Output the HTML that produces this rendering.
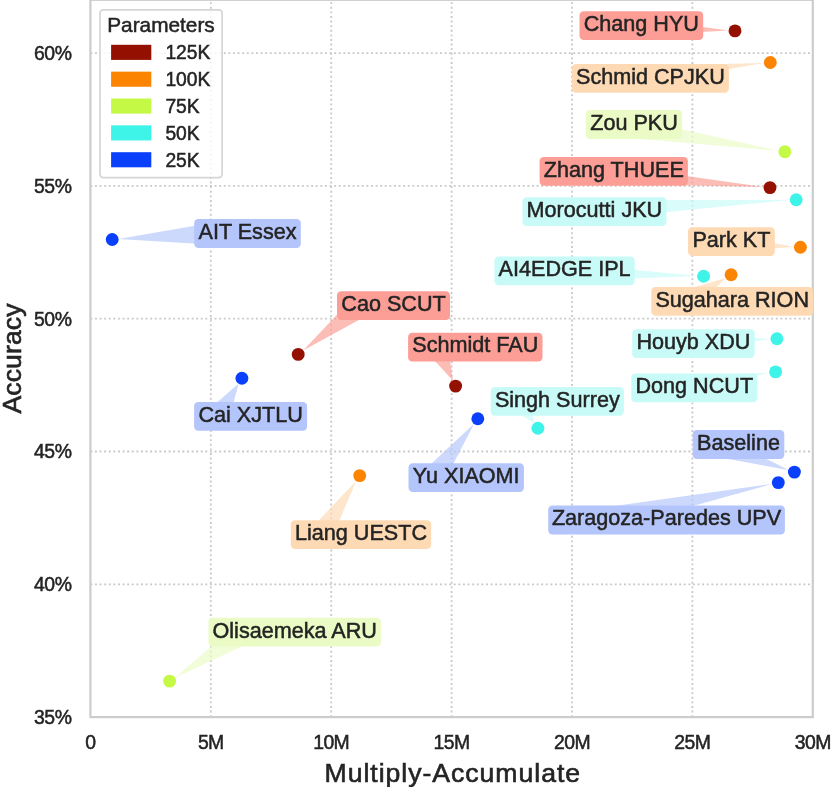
<!DOCTYPE html>
<html lang="en"><head><meta charset="utf-8"><title>Accuracy vs Multiply-Accumulate</title>
<style>html,body{margin:0;padding:0;background:#fff}svg{display:block}text{font-family:"Liberation Sans",Arial,sans-serif;fill:#242424;stroke:#242424;stroke-width:0.5px}</style></head><body>
<svg width="831" height="787" viewBox="0 0 831 787">
<rect width="831" height="787" fill="#fff"/>
<g stroke="#c8c8c8" stroke-width="1.8" stroke-dasharray="1.9 2.7" fill="none">
<line x1="210.80" y1="717.1" x2="210.80" y2="-0.2"/>
<line x1="331.20" y1="717.1" x2="331.20" y2="-0.2"/>
<line x1="451.60" y1="717.1" x2="451.60" y2="-0.2"/>
<line x1="572.00" y1="717.1" x2="572.00" y2="-0.2"/>
<line x1="692.40" y1="717.1" x2="692.40" y2="-0.2"/>
<line x1="90.4" y1="584.30" x2="812.8" y2="584.30"/>
<line x1="90.4" y1="451.50" x2="812.8" y2="451.50"/>
<line x1="90.4" y1="318.70" x2="812.8" y2="318.70"/>
<line x1="90.4" y1="185.90" x2="812.8" y2="185.90"/>
<line x1="90.4" y1="53.10" x2="812.8" y2="53.10"/>
</g>
<rect x="90.4" y="-0.2" width="722.4" height="717.3000000000001" fill="none" stroke="#cccccc" stroke-width="2.2"/>
<circle cx="112.2" cy="239.5" r="6.45" fill="#0a40fb"/>
<circle cx="241.9" cy="378.3" r="6.45" fill="#0a40fb"/>
<circle cx="298.2" cy="354.4" r="6.45" fill="#941000"/>
<circle cx="169.6" cy="681.1" r="6.45" fill="#c4f945"/>
<circle cx="778.3" cy="482.6" r="6.45" fill="#0a40fb"/>
<circle cx="794.4" cy="472.1" r="6.45" fill="#0a40fb"/>
<circle cx="784.9" cy="151.7" r="6.45" fill="#c4f945"/>
<circle cx="735.0" cy="30.9" r="6.45" fill="#941000"/>
<circle cx="770.3" cy="62.5" r="6.45" fill="#fc8403"/>
<circle cx="770.0" cy="187.6" r="6.45" fill="#941000"/>
<circle cx="796.2" cy="199.7" r="6.45" fill="#3ef3e8"/>
<circle cx="800.4" cy="247.3" r="6.45" fill="#fc8403"/>
<circle cx="731.1" cy="274.7" r="6.45" fill="#fc8403"/>
<circle cx="703.6" cy="276.3" r="6.45" fill="#3ef3e8"/>
<circle cx="776.9" cy="338.7" r="6.45" fill="#3ef3e8"/>
<circle cx="775.6" cy="371.9" r="6.45" fill="#3ef3e8"/>
<circle cx="537.9" cy="428.3" r="6.45" fill="#3ef3e8"/>
<circle cx="477.8" cy="418.8" r="6.45" fill="#0a40fb"/>
<circle cx="455.6" cy="386.1" r="6.45" fill="#941000"/>
<circle cx="359.7" cy="475.6" r="6.45" fill="#fc8403"/>
<polygon points="216.4,221.9 217.8,245.1 118.4,239.1" fill="#b4c5fb" fill-opacity="0.68"/>
<polygon points="228.3,422.4 208.5,410.1 238.6,383.6" fill="#b4c5fb" fill-opacity="0.68"/>
<polygon points="354.2,296.4 368.4,314.7 303.1,350.6" fill="#fc9e95" fill-opacity="0.68"/>
<polygon points="239.3,622.4 251.8,641.9 174.8,677.7" fill="#ebfbc5" fill-opacity="0.68"/>
<polygon points="601.4,531.4 596.7,508.6 772.2,483.9" fill="#b4c5fb" fill-opacity="0.68"/>
<polygon points="708.7,455.5 716.1,433.5 788.5,470.1" fill="#b4c5fb" fill-opacity="0.68"/>
<polygon points="604.8,136.0 608.2,113.1 778.8,150.8" fill="#ebfbc5" fill-opacity="0.68"/>
<polygon points="605.6,37.2 606.5,14.0 728.8,30.6" fill="#fc9e95" fill-opacity="0.68"/>
<polygon points="606.8,89.9 604.6,66.8 764.1,63.1" fill="#fedab4" fill-opacity="0.68"/>
<polygon points="570.5,182.9 572.4,159.8 763.8,187.1" fill="#fc9e95" fill-opacity="0.68"/>
<polygon points="554.0,223.1 552.8,200.0 790.0,200.0" fill="#c8fbf8" fill-opacity="0.68"/>
<polygon points="705.9,253.2 707.3,230.1 794.2,246.9" fill="#fedab4" fill-opacity="0.68"/>
<polygon points="692.0,311.2 680.2,291.3 725.8,277.9" fill="#fedab4" fill-opacity="0.68"/>
<polygon points="524.2,282.4 525.0,259.2 697.4,276.1" fill="#c8fbf8" fill-opacity="0.68"/>
<polygon points="659.0,355.2 658.0,332.0 770.7,339.0" fill="#c8fbf8" fill-opacity="0.68"/>
<polygon points="659.9,399.2 656.8,376.3 769.5,372.7" fill="#c8fbf8" fill-opacity="0.68"/>
<polygon points="509.8,407.9 528.9,394.7 534.4,423.2" fill="#c8fbf8" fill-opacity="0.68"/>
<polygon points="442.6,484.6 424.1,470.6 474.1,423.7" fill="#b4c5fb" fill-opacity="0.68"/>
<polygon points="426.5,352.1 447.5,342.2 452.9,380.5" fill="#fc9e95" fill-opacity="0.68"/>
<polygon points="330.7,541.0 311.3,528.2 356.3,480.8" fill="#fedab4" fill-opacity="0.68"/>
<rect x="194.2" y="219.1" width="106.6" height="28.8" rx="4.2" fill="#b4c5fb"/>
<text x="247.5" y="238.8" font-size="21.6" text-anchor="middle">AIT Essex</text>
<rect x="194.1" y="401.9" width="113.0" height="28.8" rx="4.2" fill="#b4c5fb"/>
<text x="250.6" y="421.6" font-size="21.6" text-anchor="middle">Cai XJTLU</text>
<rect x="337.0" y="291.2" width="113.0" height="28.8" rx="4.2" fill="#fc9e95"/>
<text x="393.5" y="310.9" font-size="21.6" text-anchor="middle">Cao SCUT</text>
<rect x="208.5" y="617.8" width="172.4" height="28.8" rx="4.2" fill="#ebfbc5"/>
<text x="294.7" y="637.5" font-size="21.6" text-anchor="middle">Olisaemeka ARU</text>
<rect x="548.2" y="505.6" width="236.7" height="28.8" rx="4.2" fill="#b4c5fb"/>
<text x="666.5" y="525.3" font-size="21.6" text-anchor="middle">Zaragoza-Paredes UPV</text>
<rect x="692.7" y="430.1" width="91.6" height="28.8" rx="4.2" fill="#b4c5fb"/>
<text x="738.5" y="449.8" font-size="21.6" text-anchor="middle">Baseline</text>
<rect x="585.8" y="110.1" width="96.3" height="28.8" rx="4.2" fill="#ebfbc5"/>
<text x="634.0" y="129.8" font-size="21.6" text-anchor="middle">Zou PKU</text>
<rect x="579.5" y="11.2" width="123.7" height="28.8" rx="4.2" fill="#fc9e95"/>
<text x="641.3" y="30.9" font-size="21.6" text-anchor="middle">Chang HYU</text>
<rect x="571.9" y="63.9" width="157.0" height="28.8" rx="4.2" fill="#fedab4"/>
<text x="650.4" y="83.6" font-size="21.6" text-anchor="middle">Schmid CPJKU</text>
<rect x="539.6" y="156.9" width="148.3" height="28.8" rx="4.2" fill="#fc9e95"/>
<text x="613.8" y="176.6" font-size="21.6" text-anchor="middle">Zhang THUEE</text>
<rect x="522.5" y="197.2" width="143.9" height="28.8" rx="4.2" fill="#c8fbf8"/>
<text x="594.4" y="216.8" font-size="21.6" text-anchor="middle">Morocutti JKU</text>
<rect x="688.0" y="227.2" width="86.8" height="28.8" rx="4.2" fill="#fedab4"/>
<text x="731.4" y="246.9" font-size="21.6" text-anchor="middle">Park KT</text>
<rect x="651.3" y="286.9" width="161.8" height="28.8" rx="4.2" fill="#fedab4"/>
<text x="732.2" y="306.6" font-size="21.6" text-anchor="middle">Sugahara RION</text>
<rect x="494.4" y="256.4" width="140.3" height="28.8" rx="4.2" fill="#c8fbf8"/>
<text x="564.6" y="276.1" font-size="21.6" text-anchor="middle">AI4EDGE IPL</text>
<rect x="632.2" y="329.2" width="122.5" height="28.8" rx="4.2" fill="#c8fbf8"/>
<text x="693.4" y="348.9" font-size="21.6" text-anchor="middle">Houyb XDU</text>
<rect x="631.3" y="373.4" width="126.0" height="28.8" rx="4.2" fill="#c8fbf8"/>
<text x="694.3" y="393.1" font-size="21.6" text-anchor="middle">Dong NCUT</text>
<rect x="490.7" y="386.9" width="133.2" height="28.8" rx="4.2" fill="#c8fbf8"/>
<text x="557.3" y="406.6" font-size="21.6" text-anchor="middle">Singh Surrey</text>
<rect x="408.5" y="463.2" width="115.4" height="28.8" rx="4.2" fill="#b4c5fb"/>
<text x="466.2" y="482.9" font-size="21.6" text-anchor="middle">Yu XIAOMI</text>
<rect x="408.1" y="332.8" width="134.4" height="28.8" rx="4.2" fill="#fc9e95"/>
<text x="475.3" y="352.4" font-size="21.6" text-anchor="middle">Schmidt FAU</text>
<rect x="290.8" y="520.2" width="140.3" height="28.8" rx="4.2" fill="#fedab4"/>
<text x="361.0" y="539.9" font-size="21.6" text-anchor="middle">Liang UESTC</text>
<text x="90.4" y="748.6" font-size="19.4" text-anchor="middle" letter-spacing="-0.55">0</text>
<text x="210.8" y="748.6" font-size="19.4" text-anchor="middle" letter-spacing="-0.55">5M</text>
<text x="331.2" y="748.6" font-size="19.4" text-anchor="middle" letter-spacing="-0.55">10M</text>
<text x="451.6" y="748.6" font-size="19.4" text-anchor="middle" letter-spacing="-0.55">15M</text>
<text x="572.0" y="748.6" font-size="19.4" text-anchor="middle" letter-spacing="-0.55">20M</text>
<text x="692.4" y="748.6" font-size="19.4" text-anchor="middle" letter-spacing="-0.55">25M</text>
<text x="812.8" y="748.6" font-size="19.4" text-anchor="middle" letter-spacing="-0.55">30M</text>
<text x="71.4" y="724.0" font-size="19.4" text-anchor="end" letter-spacing="-0.5">35%</text>
<text x="71.4" y="591.2" font-size="19.4" text-anchor="end" letter-spacing="-0.5">40%</text>
<text x="71.4" y="458.4" font-size="19.4" text-anchor="end" letter-spacing="-0.5">45%</text>
<text x="71.4" y="325.6" font-size="19.4" text-anchor="end" letter-spacing="-0.5">50%</text>
<text x="71.4" y="192.8" font-size="19.4" text-anchor="end" letter-spacing="-0.5">55%</text>
<text x="71.4" y="60.0" font-size="19.4" text-anchor="end" letter-spacing="-0.5">60%</text>
<text x="452.3" y="781.5" font-size="26.6" style="stroke-width:0.62px" text-anchor="middle" textLength="255.5" lengthAdjust="spacing">Multiply-Accumulate</text>
<text transform="translate(20.9,358.5) rotate(-90)" font-size="26.6" style="stroke-width:0.62px" text-anchor="middle" textLength="110" lengthAdjust="spacing">Accuracy</text>
<rect x="100" y="9.85" width="122.1" height="167.75" rx="3.3" fill="#fff" fill-opacity="0.8" stroke="#d5d5d5" stroke-width="1.7"/>
<text x="161" y="32" font-size="20.8" text-anchor="middle">Parameters</text>
<rect x="111.1" y="44.80" width="40.2" height="15.1" fill="#941000"/>
<text x="165.4" y="59.2" font-size="19.3">125K</text>
<rect x="111.1" y="71.65" width="40.2" height="15.1" fill="#fc8403"/>
<text x="165.4" y="86.1" font-size="19.3">100K</text>
<rect x="111.1" y="98.50" width="40.2" height="15.1" fill="#c4f945"/>
<text x="165.4" y="112.9" font-size="19.3">75K</text>
<rect x="111.1" y="125.35" width="40.2" height="15.1" fill="#3ef3e8"/>
<text x="165.4" y="139.8" font-size="19.3">50K</text>
<rect x="111.1" y="152.20" width="40.2" height="15.1" fill="#0a40fb"/>
<text x="165.4" y="166.6" font-size="19.3">25K</text>
</svg></body></html>
